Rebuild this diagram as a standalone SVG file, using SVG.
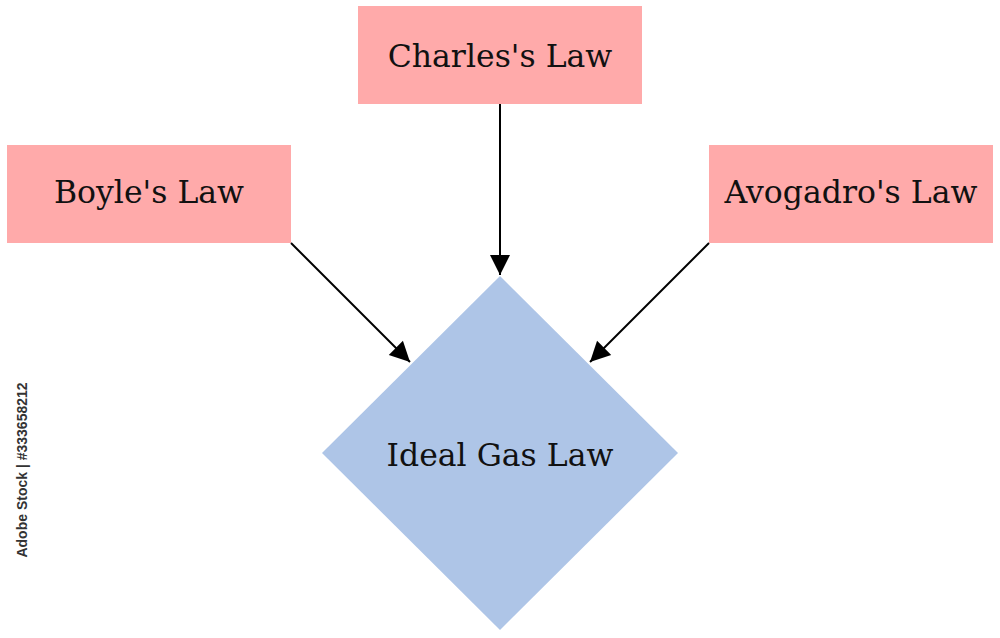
<svg xmlns="http://www.w3.org/2000/svg" width="1000" height="638" viewBox="0 0 1000 638">
<style>
.box{fill:#ffaaaa}
.dia{fill:#aec5e7}
.t{font-family:"DejaVu Serif","Liberation Serif",serif;font-size:31.5px;fill:#111;text-anchor:middle;dominant-baseline:central}
.c{stroke:#000;stroke-width:2;fill:none;marker-end:url(#a)}
</style>
<defs><marker id="a" viewBox="0 0 10 10" refX="10" refY="5" markerWidth="22" markerHeight="20" markerUnits="userSpaceOnUse" orient="auto"><path d="M0,0 L10,5 L0,10 z" fill="#000"/></marker></defs>
<rect width="1000" height="638" fill="#fff"/>
<g id="charles"><rect class="box" x="358" y="6" width="284" height="98"/><text class="t" x="500" y="56">Charles's Law</text></g>
<g id="boyle"><rect class="box" x="7" y="145" width="284" height="98"/><text class="t" x="149" y="192">Boyle's Law</text></g>
<g id="avogadro"><rect class="box" x="709" y="145" width="284" height="98"/><text class="t" x="851" y="192">Avogadro's Law</text></g>
<g id="ideal"><polygon class="dia" points="500,276 678,453 500,630 322,453"/><text class="t" x="500" y="455">Ideal Gas Law</text></g>
<g id="connectors">
<line class="c" x1="500" y1="104" x2="500" y2="275"/>
<line class="c" x1="291" y1="243" x2="410" y2="362"/>
<line class="c" x1="709" y1="243" x2="590" y2="362"/>
</g>
<text x="22" y="470" transform="rotate(-90 22 470)" style="font-family:'Liberation Sans',sans-serif;font-size:14px;font-weight:bold;fill:#333;text-anchor:middle;dominant-baseline:central">Adobe Stock | #333658212</text>
</svg>
